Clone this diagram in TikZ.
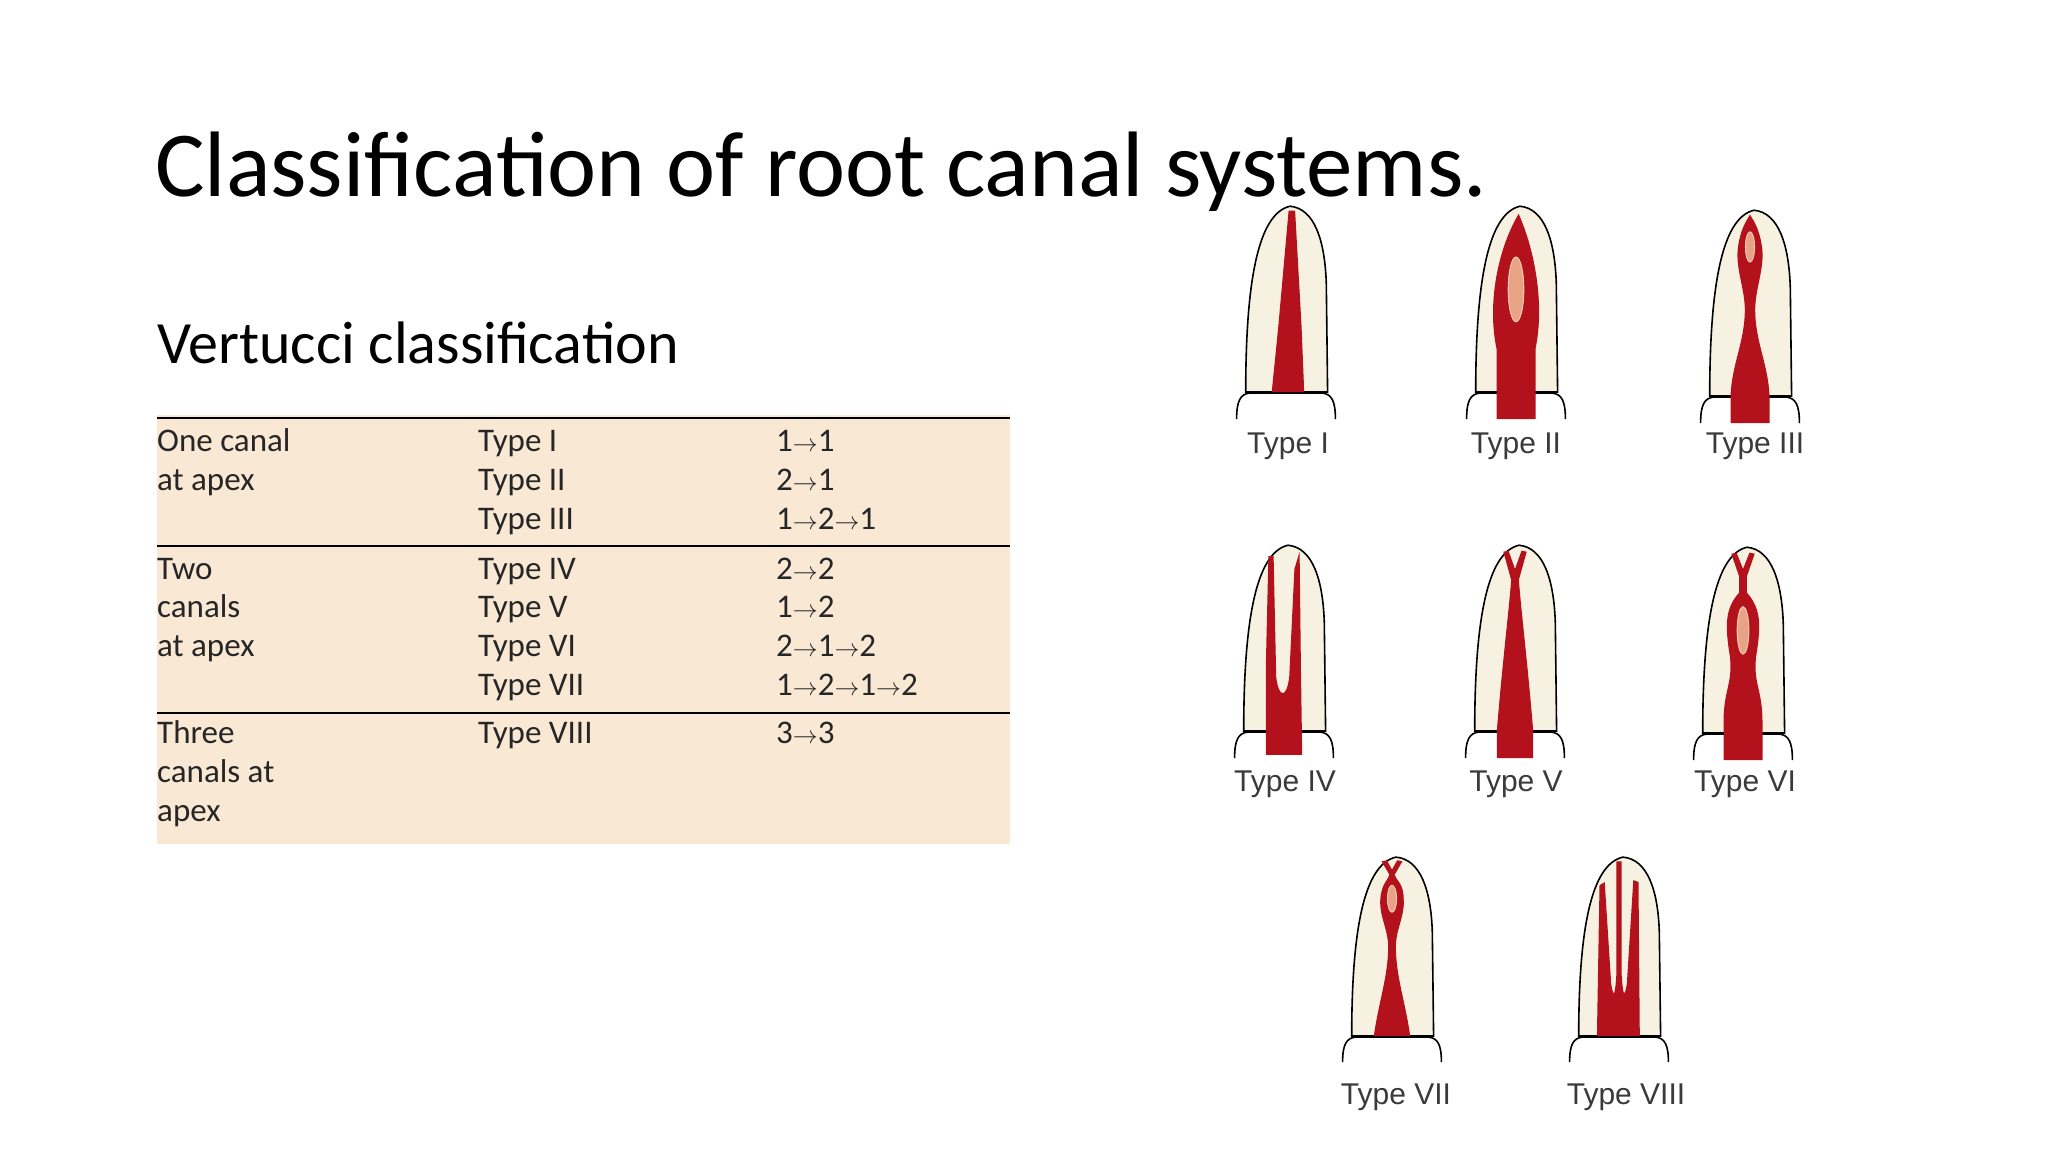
\documentclass[tikz,border=0pt]{standalone}
\usepackage{fontspec}
\setmainfont{Carlito}
\newfontfamily\lblfont{Liberation Sans}
\definecolor{ivory}{HTML}{F7F1E1}
\definecolor{canal}{HTML}{B3121C}
\definecolor{salmon}{HTML}{E7A383}
\definecolor{beige}{HTML}{F8E8D4}
\definecolor{lblgray}{HTML}{3A3A3A}
\tikzset{
 ttext/.style={anchor=base west,inner sep=0pt,font=\fontsize{33}{33}\selectfont,text=black!85},
 tlabel/.style={anchor=base,inner sep=0pt,font=\lblfont\fontsize{30}{30}\selectfont,text=lblgray},
 redfill/.style={fill=canal},
 ovalfill/.style={fill=salmon,draw=salmon!60!white,line width=1pt},
 outl/.style={draw=black,line width=1.6pt},
 tooth/.style={xscale=1.3,yscale=1.08}
}
\newcommand{\toothbase}{%
  \fill[white] (-38,25) .. controls (-38,8) and (-35,2) .. (-28,1) -- (28,1) .. controls (35,2) and (38,8) .. (38,25) -- cycle;
  \draw[outl] (-38,25) .. controls (-38,8) and (-35,2) .. (-28,1) -- (28,1) .. controls (35,2) and (38,8) .. (38,25);
  \filldraw[fill=ivory,outl] (-31,0) .. controls (-31,-100) and (-22,-165) .. (3,-172) .. controls (22,-170) and (30,-140) .. (31,-100) -- (32,0) -- cycle;}
\begin{document}
\begin{tikzpicture}[x=1pt,y=-1pt]
\useasboundingbox (0,0) rectangle (2048,1152);
\fill[white] (0,0) rectangle (2048,1152);
\node[anchor=base west,inner sep=0pt,font=\fontsize{93}{93}\selectfont] (title) at (155,196) {Classification of root canal systems.};
\node[anchor=base west,inner sep=0pt,font=\fontsize{60}{60}\selectfont] (sub) at (157,363) {Vertucci classification};
% table
\fill[beige] (157,415) rectangle (1010,844);
\draw[line width=1.5pt] (157,418) -- (1010,418);
\draw[line width=1.5pt] (157,546) -- (1010,546);
\draw[line width=1.5pt] (157,713) -- (1010,713);
\node[ttext] (a1) at (157,451) {One canal};
\node[ttext] (a2) at (157,490) {at apex};
\node[ttext] (b1) at (478,451) {Type I};
\node[ttext] (b2) at (478,490) {Type II};
\node[ttext] (b3) at (478,529) {Type III};
\node[ttext] (c1) at (776,451) {1$\rightarrow$1};
\node[ttext] (c2) at (776,490) {2$\rightarrow$1};
\node[ttext] (c3) at (776,529) {1$\rightarrow$2$\rightarrow$1};
\node[ttext] (d1) at (157,579) {Two};
\node[ttext] (d2) at (157,617) {canals};
\node[ttext] (d3) at (157,656) {at apex};
\node[ttext] (e1) at (478,579) {Type IV};
\node[ttext] (e2) at (478,617) {Type V};
\node[ttext] (e3) at (478,656) {Type VI};
\node[ttext] (e4) at (478,695) {Type VII};
\node[ttext] (f1) at (776,579) {2$\rightarrow$2};
\node[ttext] (f2) at (776,617) {1$\rightarrow$2};
\node[ttext] (f3) at (776,656) {2$\rightarrow$1$\rightarrow$2};
\node[ttext] (f4) at (776,695) {1$\rightarrow$2$\rightarrow$1$\rightarrow$2};
\node[ttext] (g1) at (157,743) {Three};
\node[ttext] (g2) at (157,782) {canals at};
\node[ttext] (g3) at (157,821) {apex};
\node[ttext] (h1) at (478,743) {Type VIII};
\node[ttext] (i1) at (776,743) {3$\rightarrow$3};
% Type I
\begin{scope}[shift={(1286,392)},tooth]
\toothbase
\fill[redfill] (2,-168) -- (7,-168) -- (12,-60) -- (14,0) -- (-11,0) -- (-6,-60) -- cycle;
\end{scope}
\node[tlabel] (t1) at (1288,453) {Type I};
% Type II
\begin{scope}[shift={(1516,392)},tooth]
\toothbase
\fill[redfill] (-15,25) -- (-15,-40) .. controls (-22,-80) and (-15,-130) .. (2,-165) .. controls (15,-130) and (22,-80) .. (15,-40) -- (15,25) -- cycle;
\filldraw[ovalfill] (0,-95) ellipse (6 and 30);
\end{scope}
\node[tlabel] (t2) at (1516,453) {Type II};
% Type III
\begin{scope}[shift={(1750,396)},tooth]
\toothbase
\fill[redfill] (-15,25) -- (-15,0) .. controls (-14,-30) and (-4,-50) .. (-4,-80) .. controls (-4,-100) and (-12,-120) .. (-9,-140) .. controls (-7,-155) and (-3,-162) .. (0,-168) .. controls (3,-162) and (7,-155) .. (9,-140) .. controls (12,-120) and (4,-100) .. (4,-80) .. controls (4,-50) and (14,-30) .. (15,0) -- (15,25) -- cycle;
\filldraw[ovalfill] (0,-138) ellipse (3.5 and 14);
\end{scope}
\node[tlabel] (t3) at (1755,453) {Type III};
% Type IV
\begin{scope}[shift={(1284,731)},tooth]
\toothbase
\fill[redfill] (-14,22) -- (-14,-60) -- (-12,-162) -- (-8,-162) -- (-6,-50) .. controls (-4,-30) and (2,-30) .. (4,-50) -- (8,-150) -- (12,-166) -- (13,-60) -- (14,22) -- cycle;
\end{scope}
\node[tlabel] (t4) at (1285,791) {Type IV};
% Type V
\begin{scope}[shift={(1515,731)},tooth]
\toothbase
\fill[redfill] (-14,25) -- (-14,0) .. controls (-10,-60) and (-4,-120) .. (-3,-140) -- (-9,-166) -- (-5,-167) -- (0,-150) -- (5,-167) -- (9,-166) -- (3,-140) .. controls (4,-120) and (10,-60) .. (14,0) -- (14,25) -- cycle;
\end{scope}
\node[tlabel] (t5) at (1516,791) {Type V};
% Type VI
\begin{scope}[shift={(1743,733)},tooth]
\toothbase
\fill[redfill] (-15,25) -- (-15,-10) .. controls (-15,-40) and (-8,-45) .. (-10,-70) .. controls (-14,-100) and (-14,-115) .. (-3,-130) -- (-3,-145) -- (-9,-166) -- (-5,-167) -- (0,-152) -- (5,-167) -- (9,-166) -- (3,-145) -- (3,-130) .. controls (14,-115) and (14,-100) .. (10,-70) .. controls (8,-45) and (15,-40) .. (15,-10) -- (15,25) -- cycle;
\filldraw[ovalfill] (0,-95) ellipse (4.5 and 22);
\end{scope}
\node[tlabel] (t6) at (1745,791) {Type VI};
% Type VII
\begin{scope}[shift={(1392,1036)},xscale=1.3,yscale=1.04]
\toothbase
\fill[redfill] (-14,0) .. controls (-10,-35) and (-3,-57) .. (-3,-86) .. controls (-3,-103) and (-10,-115) .. (-9,-132) .. controls (-8,-147) and (-3,-150) .. (-2,-155) -- (-8,-168) -- (-4,-169) -- (0,-160) -- (4,-169) -- (8,-168) -- (2,-155) .. controls (3,-150) and (9,-147) .. (9,-132) .. controls (10,-115) and (3,-103) .. (3,-86) .. controls (3,-57) and (10,-35) .. (14,0) -- cycle;
\filldraw[ovalfill] (0,-132) ellipse (3.5 and 13);
\end{scope}
\node[tlabel] (t7) at (1396,1104) {Type VII};
% Type VIII
\begin{scope}[shift={(1619,1036)},xscale=1.3,yscale=1.04]
\toothbase
\fill[redfill] (-17,0) -- (-15,-145) -- (-11,-148) -- (-6,-50) .. controls (-4,-35) and (-3,-40) .. (-2,-60) -- (-2,-168) -- (2,-168) -- (2,-60) .. controls (3,-40) and (4,-35) .. (6,-50) -- (11,-150) -- (15,-148) -- (16,0) -- cycle;
\end{scope}
\node[tlabel] (t8) at (1626,1104) {Type VIII};
\end{tikzpicture}
\end{document}
